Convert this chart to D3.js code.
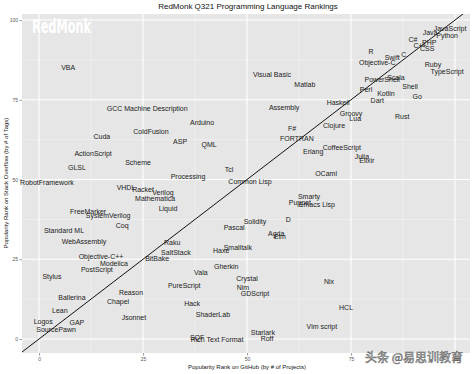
<!DOCTYPE html>
<html>
<head>
<meta charset="utf-8">
<script src="https://cdn.jsdelivr.net/npm/d3@7"></script>
<style>
  body { margin: 0; background: #fff; }
  text { font-family: "Liberation Sans", Arial, sans-serif; }
</style>
</head>
<body>
<div id="chart"></div>
<script>
// language names and their ranks (GitHub = x, Stack Overflow = y)
const languages = ["JavaScript","Java","Python","C#","C++","PHP","CSS","R","Objective-C","Swift","C",
  "Ruby","TypeScript","Scala","PowerShell","Shell","Perl","Kotlin","Dart","Go","Visual Basic","Matlab",
  "Assembly","Haskell","Groovy","Lua","Rust","Clojure","F#","FORTRAN","Erlang","CoffeeScript","Julia",
  "Elixir","OCaml","Common Lisp","Tcl","Smarty","Puppet","Emacs Lisp","D","Solidity","Pascal","Agda",
  "Elm","Smalltalk","Haxe","Raku","SaltStack","BitBake","Gherkin","Vala","Crystal","PureScript","Nim",
  "GDScript","Nix","HCL","Vim script","Starlark","Roff","Hack","ShaderLab","SQF","Rich Text Format",
  "Reason","Chapel","Jsonnet","Objective-C++","Modelica","PostScript","Stylus","Ballerina","Lean",
  "Logos","GAP","SourcePawn","Standard ML","WebAssembly","Coq","FreeMarker","SystemVerilog","VHDL",
  "Racket","Verilog","Mathematica","Liquid","RobotFramework","Processing","Scheme","GLSL","ActionScript",
  "Cuda","ColdFusion","ASP","QML","Arduino","GCC Machine Description","VBA"];

const githubRank = [98.8,94.0,98.1,89.9,91.6,93.8,93.3,79.8,81.3,84.9,87.7,
  94.7,98.1,85.8,82.5,89.2,78.6,83.4,81.3,90.9,56.0,63.9,
  58.9,71.9,75.0,76.0,87.3,70.9,60.8,62.0,65.9,72.8,77.6,
  78.8,69.0,50.7,45.7,64.9,62.7,66.8,59.9,51.9,46.9,57.0,
  57.9,47.8,43.8,32.0,32.9,28.4,45.0,38.9,50.0,34.9,49.0,
  51.9,69.7,73.8,68.0,53.8,54.8,36.8,41.8,38.0,42.8,
  22.1,19.0,22.8,14.9,18.0,13.9,3.1,7.9,5.0,
  1.0,9.1,4.1,6.0,10.8,20.0,11.8,16.6,20.9,
  25.0,29.8,27.9,31.0,1.9,35.8,23.8,9.1,13.0,
  15.1,26.9,33.9,40.9,39.2,26.0,7.0];

const stackRank = [97.2,96.2,95.0,94.0,92.0,93.1,91.2,90.0,86.8,88.1,89.3,
  85.9,84.0,82.1,81.2,79.0,78.1,76.8,74.9,75.9,82.8,79.9,
  72.7,74.0,70.8,69.0,69.9,66.8,66.1,63.0,58.9,59.9,57.1,
  55.8,52.0,49.5,53.0,44.8,42.9,42.0,37.6,36.7,34.8,32.9,
  32.0,28.8,27.6,30.1,27.0,25.1,22.6,20.7,18.8,16.9,16.0,
  14.1,17.9,9.7,3.8,1.9,0.0,11.0,7.8,0.6,-0.3,
  14.7,11.6,6.6,26.0,23.8,21.9,19.7,12.9,8.8,
  5.6,5.0,2.8,33.9,30.7,35.7,40.1,38.6,47.6,
  47.0,45.8,43.9,40.8,48.9,50.8,55.2,53.9,58.0,
  63.6,64.9,61.8,61.1,68.0,72.1,85.0];

const majorTicks = [0, 25, 50, 75, 100];
const minorTicks = [12.5, 37.5, 62.5, 87.5];

const W = 474, H = 374;
const m = { top: 14, right: 4, bottom: 21, left: 22 };

const svg = d3.select("#chart").append("svg")
  .attr("width", W)
  .attr("height", H);

const x = d3.scaleLinear().domain([-4.1, 103.6]).range([m.left, W - m.right]);
const y = d3.scaleLinear().domain([-4.4, 101.9]).range([H - m.bottom, m.top]);

// panel
svg.append("rect")
  .attr("x", m.left).attr("y", m.top)
  .attr("width", W - m.right - m.left)
  .attr("height", H - m.bottom - m.top)
  .attr("fill", "#e6e6e6");

svg.append("clipPath").attr("id", "clip").append("rect")
  .attr("x", m.left).attr("y", m.top)
  .attr("width", W - m.right - m.left)
  .attr("height", H - m.bottom - m.top);

const grid = svg.append("g");
grid.selectAll(".minx").data(minorTicks).enter().append("line")
  .attr("x1", d => x(d)).attr("x2", d => x(d))
  .attr("y1", m.top).attr("y2", H - m.bottom)
  .attr("stroke", "#f4f4f4").attr("stroke-width", 0.6);
grid.selectAll(".miny").data(minorTicks).enter().append("line")
  .attr("y1", d => y(d)).attr("y2", d => y(d))
  .attr("x1", m.left).attr("x2", W - m.right)
  .attr("stroke", "#f4f4f4").attr("stroke-width", 0.6);
grid.selectAll(".majx").data(majorTicks).enter().append("line")
  .attr("x1", d => x(d)).attr("x2", d => x(d))
  .attr("y1", m.top).attr("y2", H - m.bottom)
  .attr("stroke", "#fff").attr("stroke-width", 1.1);
grid.selectAll(".majy").data(majorTicks).enter().append("line")
  .attr("y1", d => y(d)).attr("y2", d => y(d))
  .attr("x1", m.left).attr("x2", W - m.right)
  .attr("stroke", "#fff").attr("stroke-width", 1.1);

// watermark inside panel
svg.append("text")
  .attr("x", 32).attr("y", 33)
  .attr("fill", "#fff")
  .attr("textLength", 59)
  .attr("lengthAdjust", "spacingAndGlyphs")
  .style("font-family", "'DejaVu Sans Condensed', 'Liberation Sans', sans-serif")
  .style("font-weight", "bold")
  .style("font-size", "19px")
  .text("RedMonk");

// axes
const xAxis = d3.axisBottom(x).tickValues(majorTicks).tickSize(2.5).tickPadding(1.5);
const yAxis = d3.axisLeft(y).tickValues(majorTicks).tickSize(2.5).tickPadding(1.5);

const gx = svg.append("g").attr("transform", `translate(0,${H - m.bottom})`).call(xAxis);
const gy = svg.append("g").attr("transform", `translate(${m.left},0)`).call(yAxis);
[gx, gy].forEach(g => {
  g.select(".domain").remove();
  g.selectAll(".tick line").attr("stroke", "#555").attr("stroke-width", 0.6);
  g.selectAll(".tick text").attr("fill", "#555")
    .style("font-size", "5px")
    .style("font-family", "'Liberation Sans', Arial, sans-serif");
});

// diagonal y = x
svg.append("line")
  .attr("clip-path", "url(#clip)")
  .attr("x1", x(-5)).attr("y1", y(-5))
  .attr("x2", x(105)).attr("y2", y(105))
  .attr("stroke", "#111").attr("stroke-width", 1);

// language labels
svg.append("g").selectAll("text")
  .data(languages)
  .enter().append("text")
  .attr("x", (d, i) => x(githubRank[i]))
  .attr("y", (d, i) => y(stackRank[i]))
  .attr("text-anchor", "middle")
  .attr("dy", "0.35em")
  .attr("fill", "#1a1a1a")
  .style("font-size", "7px")
  .text(d => d);

// titles
svg.append("text")
  .attr("x", 248).attr("y", 9)
  .attr("text-anchor", "middle")
  .attr("fill", "#111")
  .style("font-size", "8px")
  .text("RedMonk Q321 Programming Language Rankings");

svg.append("text")
  .attr("x", 247).attr("y", 369)
  .attr("text-anchor", "middle")
  .attr("fill", "#111")
  .style("font-size", "6px")
  .text("Popularity Rank on GitHub (by # of Projects)");

svg.append("text")
  .attr("transform", "translate(8,183) rotate(-90)")
  .attr("text-anchor", "middle")
  .attr("fill", "#111")
  .style("font-size", "6px")
  .text("Popularity Rank on Stack Overflow (by # of Tags)");

// source watermark
svg.append("text")
  .attr("x", 463).attr("y", 362)
  .attr("text-anchor", "end")
  .attr("fill", "#fff")
  .attr("stroke", "#666")
  .attr("stroke-width", 0.6)
  .style("font-family", "'Noto Sans CJK SC', sans-serif")
  .style("font-size", "12px")
  .text("头条 @易思训教育");
</script>
</body>
</html>
